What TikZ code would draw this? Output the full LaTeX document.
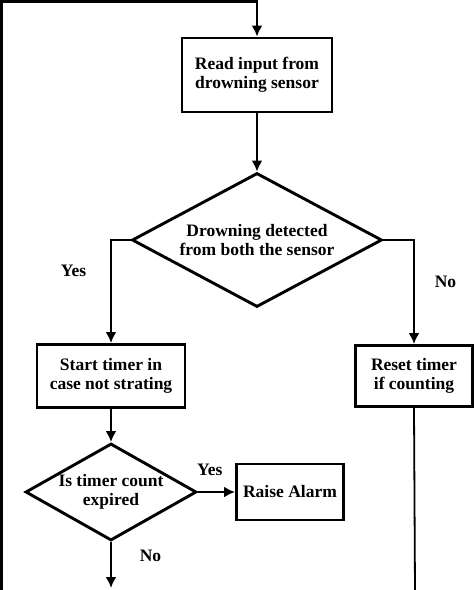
\documentclass[tikz,border=0pt]{standalone}
\usepackage{fontspec}
\setmainfont{Liberation Serif}
\usetikzlibrary{shapes.geometric,arrows.meta,positioning}

\begin{document}
\begin{tikzpicture}[->,>={Latex[length=11pt,width=11pt]},x=1pt,y=1pt]

\tikzstyle{state} = [draw, rectangle, line width=2.9pt, align=center, font={\fontsize{17.5}{19.5}\selectfont\bfseries}]
\tikzstyle{decision} = [state, diamond, inner sep=0pt]
\tikzstyle{stateEdgePortion} = [black, line width=2.9pt];
\tikzstyle{stateEdge} = [stateEdgePortion,->];
\tikzstyle{plainEdge} = [black, line width=1.8pt, -];
\tikzstyle{edgeLabel} = [font={\fontsize{17.5}{19.5}\selectfont\bfseries}];

\useasboundingbox (0,0) rectangle (474,-590);

\node[state, name=read, minimum width=150pt, minimum height=74pt] at (257,-75) {Read input from\\drowning sensor};
\node[decision, name=detect, below of=read, node distance=165pt, minimum width=250pt, minimum height=134pt, aspect=1.87] {Drowning detected\\from both the sensor};
\node[state, name=start, below of=detect, node distance=136pt, xshift=-146pt, minimum width=148pt, minimum height=63pt] {Start timer in\\case not strating};
\node[state, name=reset, below of=detect, node distance=136pt, xshift=157pt, minimum width=117pt, minimum height=61pt] {Reset timer\\if counting};
\node[decision, name=expired, below of=start, node distance=116pt, minimum width=171pt, minimum height=97pt, aspect=1.76] {Is timer count\\expired};
\node[state, name=alarm, right of=expired, node distance=179pt, minimum width=107pt, minimum height=56pt] {Raise Alarm};

\coordinate (loopBottom) at (1.5,-590);
\coordinate (loopCorner) at (1.5,-1.5);
\coordinate (noEnd) at (111,-588);
\coordinate (resetEnd) at (415,-590);

\draw[stateEdge] (loopBottom) -- (loopCorner) -| (read.north);
\draw[stateEdge] (read) -- (detect);
\draw[stateEdge] (detect.west) -| node[edgeLabel, pos=0.65, left=20pt] {Yes} (start.north);
\draw[stateEdge] (detect.east) -| node[edgeLabel, pos=0.7, right=16pt] {No} (reset.north);
\draw[stateEdge] (start) -- (expired);
\draw[stateEdge] (expired) -- node[edgeLabel, pos=0.32, above=12pt] {Yes} (alarm);
\draw[stateEdge] (expired.south) -- node[edgeLabel, pos=0.3, right=24pt] {No} (noEnd);
\draw[plainEdge] (reset.south) -- (resetEnd);
\end{tikzpicture}
\end{document}
